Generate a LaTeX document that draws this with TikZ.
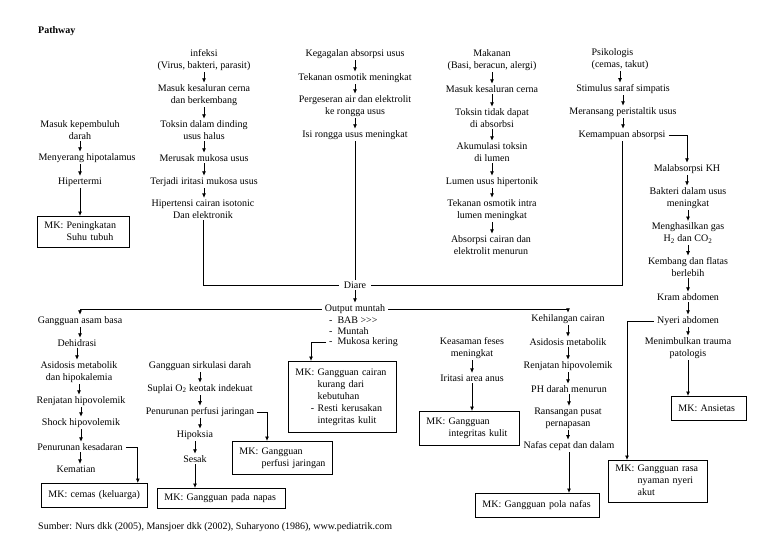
\documentclass[tikz,border=0pt]{standalone}
\usepackage{fontspec}
\setmainfont{Liberation Serif}
\usetikzlibrary{arrows.meta}
\tikzset{
  txt/.style={align=center, inner xsep=3pt, inner ysep=1.5pt},
  mkbox/.style={draw, line width=0.8pt, align=left, anchor=north west, inner xsep=7pt, inner ysep=2pt},
  arr/.style={-{Latex[length=4.5pt,width=4pt]}, line width=0.8pt},
  line/.style={line width=0.8pt}
}
\begin{document}
\begin{tikzpicture}[x=1pt, y=-1pt, font=\fontsize{10}{12}\selectfont]
\useasboundingbox (0,0) rectangle (768,543);

\node[anchor=west, inner sep=0pt] (pathway) at (38,31) {\textbf{Pathway}};

\node[txt] (kepembuluh) at (80,130) {Masuk kepembuluh\\darah};
\node[txt] (hipotalamus) at (87,158) {Menyerang hipotalamus};
\node[txt] (hipertermi) at (80,182) {Hipertermi};
\node[mkbox, text width=78pt, minimum height=31pt] (mkSuhu) at (37,216)
  {\begin{tabular}{@{}r@{ }l@{}}MK:&Peningkatan\\&Suhu tubuh\end{tabular}};

\node[txt] (infeksi) at (204,60) {infeksi\\(Virus, bakteri, parasit)};
\node[txt] (masuk1) at (204,95) {Masuk kesaluran cerna\\dan berkembang};
\node[txt] (toksin1) at (204,130) {Toksin dalam dinding\\usus halus};
\node[txt] (merusak) at (204,158) {Merusak mukosa usus};
\node[txt] (iritasi) at (204,182) {Terjadi iritasi mukosa usus};
\node[txt] (isotonic) at (203,209) {Hipertensi cairan isotonic\\Dan elektronik};

\node[txt] (kegagalan) at (355,54) {Kegagalan absorpsi usus};
\node[txt] (osmotik) at (355,78) {Tekanan osmotik meningkat};
\node[txt] (pergeseran) at (355,106) {Pergeseran air dan elektrolit\\ke rongga usus};
\node[txt] (isirongga) at (355,135) {Isi rongga usus meningkat};

\node[txt] (makanan) at (492,60) {Makanan\\(Basi, beracun, alergi)};
\node[txt] (masuk2) at (492,89) {Masuk kesaluran cerna};
\node[txt] (toksin2) at (492,118) {Toksin tidak dapat\\di absorbsi};
\node[txt] (akumulasi) at (492,152) {Akumulasi toksin\\di lumen};
\node[txt] (lumen) at (492,182) {Lumen usus hipertonik};
\node[txt] (intra) at (492,210) {Tekanan osmotik intra\\lumen meningkat};
\node[txt] (menurun) at (491,245) {Absorpsi cairan dan\\elektrolit menurun};

\node[txt, align=left] (psikologis) at (620,59) {Psikologis\\(cemas, takut)};
\node[txt] (simpatis) at (623,89) {Stimulus saraf simpatis};
\node[txt] (peristaltik) at (623,112) {Meransang peristaltik usus};
\node[txt] (kemampuan) at (622,135) {Kemampuan absorpsi};

\node[txt] (malabsorpsi) at (687,169) {Malabsorpsi KH};
\node[txt] (bakteri) at (688,198) {Bakteri dalam usus\\meningkat};
\node[txt] (gas) at (688,233) {Menghasilkan gas\\H\textsubscript{2} dan CO\textsubscript{2}};
\node[txt] (kembang) at (688,267) {Kembang dan flatas\\berlebih};
\node[txt] (kram) at (688,297) {Kram abdomen};
\node[txt] (nyeri) at (688,321) {Nyeri abdomen};
\node[txt] (trauma) at (688,348) {Menimbulkan trauma\\patologis};
\node[mkbox, text width=61pt, minimum height=24pt] (mkAnsietas) at (671,396) {MK: Ansietas};
\node[mkbox, text width=85pt, minimum height=42pt] (mkNyeri) at (608,460)
  {\begin{tabular}{@{}r@{ }l@{}}MK:&Gangguan rasa\\&nyaman nyeri\\&akut\end{tabular}};

\node[txt, inner xsep=5pt] (diare) at (355,285) {Diare};
\node[txt] (output) at (355,309) {Output muntah};
\node[txt, anchor=west] (bab) at (326,320) {- \ BAB {>}{>}{>}};
\node[txt, anchor=west] (muntah) at (326,331) {- \ Muntah};
\node[txt, anchor=west] (mukosa) at (326,342) {- \ Mukosa kering};
\node[mkbox, text width=94pt, minimum height=71pt] (mkCairan) at (288,361)
  {\begin{tabular}{@{}r@{ }l@{}}MK:&Gangguan cairan\\&kurang dari\\&kebutuhan\\- &Resti kerusakan\\&integritas kulit\end{tabular}};

\node[txt] (asambasa) at (80,321) {Gangguan asam basa};
\node[txt] (dehidrasi) at (77,343) {Dehidrasi};
\node[txt] (asidosis1) at (79,372) {Asidosis metabolik\\dan hipokalemia};
\node[txt] (renjatan1) at (81,401) {Renjatan hipovolemik};
\node[txt] (shock) at (81,423) {Shock hipovolemik};
\node[txt] (kesadaran) at (80,447) {Penurunan kesadaran};
\node[txt] (kematian) at (76,469) {Kematian};
\node[mkbox, text width=92pt, minimum height=24pt] (mkCemas) at (41,483) {MK: cemas (keluarga)};

\node[txt] (sirkulasi) at (200,366) {Gangguan sirkulasi darah};
\node[txt] (suplai) at (200,389) {Suplai O\textsubscript{2} keotak indekuat};
\node[txt] (perfusi) at (200,412) {Penurunan perfusi jaringan};
\node[txt] (hipoksia) at (195,435) {Hipoksia};
\node[txt] (sesak) at (195,459) {Sesak};
\node[mkbox, text width=86pt, minimum height=33pt] (mkPerfusi) at (232,441)
  {\begin{tabular}{@{}r@{ }l@{}}MK:&Gangguan\\&perfusi jaringan\end{tabular}};
\node[mkbox, text width=114pt, minimum height=20pt] (mkNapas) at (157,488) {MK: Gangguan pada napas};

\node[txt] (keasaman) at (472,348) {Keasaman feses\\meningkat};
\node[txt] (anus) at (472,378) {Iritasi area anus};
\node[mkbox, text width=86pt, minimum height=34pt] (mkKulit) at (419,411)
  {\begin{tabular}{@{}r@{ }l@{}}MK:&Gangguan\\&integritas kulit\end{tabular}};

\node[txt] (kehilangan) at (568,319) {Kehilangan cairan};
\node[txt] (asidosis2) at (568,342) {Asidosis metabolik};
\node[txt] (renjatan2) at (568,366) {Renjatan hipovolemik};
\node[txt] (ph) at (569,389) {PH darah menurun};
\node[txt] (ransangan) at (568,418) {Ransangan pusat\\pernapasan};
\node[txt] (nafas) at (569,446) {Nafas cepat dan dalam};
\node[mkbox, text width=110pt, minimum height=24pt] (mkPola) at (475,493) {MK: Gangguan pola nafas};

\node[anchor=west, inner sep=0pt] (sumber) at (38,527)
  {Sumber: Nurs dkk (2005), Mansjoer dkk (2002), Suharyono (1986), www.pediatrik.com};

\draw [arr] (kepembuluh) -- (kepembuluh |- hipotalamus.north);
\draw [arr] (kepembuluh |- hipotalamus.south) -- (kepembuluh |- hipertermi.north);
\draw [arr] (hipertermi) -- (hipertermi |- mkSuhu.north);

\draw [arr] (infeksi) -- (infeksi |- masuk1.north);
\draw [arr] (masuk1) -- (masuk1 |- toksin1.north);
\draw [arr] (toksin1) -- (toksin1 |- merusak.north);
\draw [arr] (merusak) -- (merusak |- iritasi.north);
\draw [arr] (iritasi) -- (iritasi |- isotonic.north);
\draw [line] (isotonic) |- (diare);

\draw [arr] (kegagalan) -- (kegagalan |- osmotik.north);
\draw [arr] (osmotik) -- (osmotik |- pergeseran.north);
\draw [arr] (pergeseran) -- (pergeseran |- isirongga.north);
\draw [line] (isirongga) -- (diare);

\draw [arr] (makanan) -- (makanan |- masuk2.north);
\draw [arr] (masuk2) -- (masuk2 |- toksin2.north);
\draw [arr] (toksin2) -- (toksin2 |- akumulasi.north);
\draw [arr] (akumulasi) -- (akumulasi |- lumen.north);
\draw [arr] (lumen) -- (lumen |- intra.north);
\draw [arr] (intra) -- (intra |- menurun.north);

\draw [arr] (psikologis) -- (psikologis |- simpatis.north);
\draw [arr] (simpatis) -- (simpatis |- peristaltik.north);
\draw [arr] (peristaltik) -- (peristaltik |- kemampuan.north);
\draw [arr] (kemampuan) -| (malabsorpsi);
\draw [line] (kemampuan) |- (diare);

\draw [arr] (malabsorpsi) -- (malabsorpsi |- bakteri.north);
\draw [arr] (bakteri) -- (bakteri |- gas.north);
\draw [arr] (gas) -- (gas |- kembang.north);
\draw [arr] (kembang) -- (kembang |- kram.north);
\draw [arr] (kram) -- (kram |- nyeri.north);
\draw [arr] (nyeri) -- (nyeri |- trauma.north);
\draw [arr] (trauma) -- (trauma |- mkAnsietas.north);
\draw [arr] (nyeri) -| ([xshift=19pt]mkNyeri.north west);

\draw [arr] (diare) -- (diare |- output.north);
\draw [arr] (output) -| (asambasa);
\draw [arr] (output) -| (kehilangan);
\draw [arr] (mukosa) -| ([xshift=23pt]mkCairan.north west);

\draw [arr] (asambasa) -- (asambasa |- dehidrasi.north);
\draw [arr] (dehidrasi) -- (dehidrasi |- asidosis1.north);
\draw [arr] (asidosis1) -- (asidosis1 |- renjatan1.north);
\draw [arr] (renjatan1) -- (renjatan1 |- shock.north);
\draw [arr] (shock) -- (shock |- kesadaran.north);
\draw [arr] (kesadaran) -- (kesadaran |- kematian.north);
\draw [arr] (kesadaran) -| ([xshift=-10pt]mkCemas.north east);

\draw [arr] (sirkulasi) -- (sirkulasi |- suplai.north);
\draw [arr] (suplai) -- (suplai |- perfusi.north);
\draw [arr] (perfusi) -- (perfusi |- hipoksia.north);
\draw [arr] (hipoksia) -- (hipoksia |- sesak.north);
\draw [arr] (sesak) -- (sesak |- mkNapas.north);
\draw [arr] (perfusi) -| ([xshift=35pt]mkPerfusi.north west);

\draw [arr] (keasaman) -- (keasaman |- anus.north);
\draw [arr] (anus) -- (anus |- mkKulit.north);

\draw [arr] (kehilangan) -- (kehilangan |- asidosis2.north);
\draw [arr] (asidosis2) -- (asidosis2 |- renjatan2.north);
\draw [arr] (renjatan2) -- (renjatan2 |- ph.north);
\draw [arr] (ph) -- (ph |- ransangan.north);
\draw [arr] (ransangan) -- (ransangan |- nafas.north);
\draw [arr] (nafas) -- (nafas |- mkPola.north);
\end{tikzpicture}
\end{document}
